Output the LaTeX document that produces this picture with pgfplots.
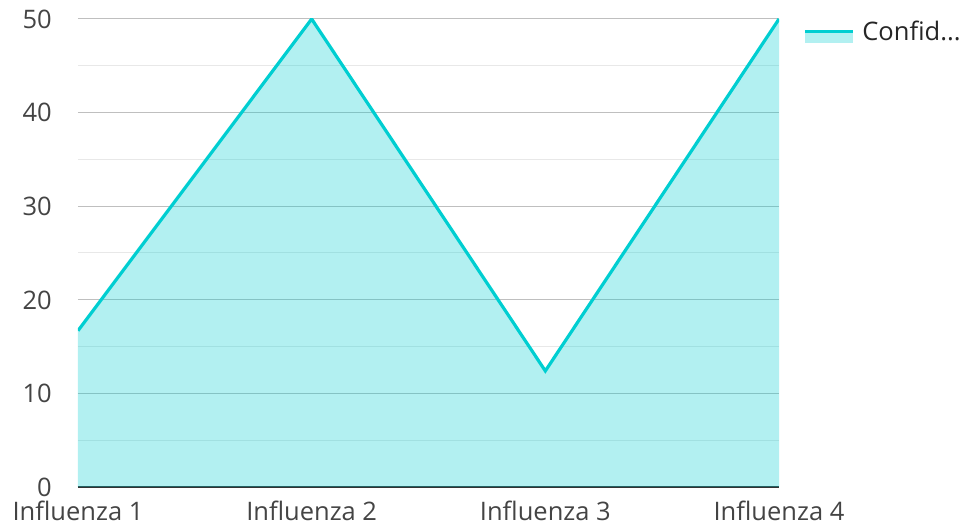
\documentclass[border=0pt]{standalone}
\usepackage{pgfplots}
\pgfplotsset{compat=1.18}
\usepackage{fontspec}
\setmainfont{Open Sans}
\definecolor{lc}{RGB}{0,206,209}
\definecolor{tickc}{RGB}{68,68,68}
\begin{document}
\begin{tikzpicture}
\begin{axis}[
  scale only axis, width=701pt, height=468pt,
  xmin=0, xmax=3, ymin=0, ymax=50,
  xtick={0,1,2,3},
  xticklabels={Influenza 1,Influenza 2,Influenza 3,Influenza 4},
  ytick={0,10,...,50}, minor ytick={5,15,...,45},
  ymajorgrids, yminorgrids,
  major grid style={draw=black!25, line width=1pt},
  minor grid style={draw=black!9, line width=1pt},
  axis lines=left, axis line style={-},
  y axis line style={draw=none},
  x axis line style={draw=black!80, line width=1.8pt},
  major tick length=0pt, minor tick length=0pt,
  tick label style={font=\fontsize{25.5}{30}\selectfont, text=tickc},
  /pgf/number format/assume math mode=true,
  yticklabel style={inner sep=0pt, xshift=-26pt, text depth=0pt},
  xticklabel style={inner sep=0pt, yshift=-14pt, text depth=0pt},
  legend style={draw=none, fill=none, at={(1,1)}, anchor=north west,
    xshift=21pt, yshift=2pt, font=\fontsize{25.5}{30}\selectfont, text=black!85,
    column sep=6pt},
  legend cell align=left,
]
\addplot[draw=none, fill=lc, fill opacity=0.3, forget plot] coordinates {(0,16.7) (1,50) (2,12.4) (3,50)} \closedcycle;
\addplot[draw=lc, line width=3.2pt, legend image code/.code={
   \path[draw=none, fill=lc, fill opacity=0.3] (0pt,-1pt) rectangle (48pt,-11pt);
   \draw[lc, line width=3.2pt] (0pt,0pt) -- (48pt,0pt);}]
  coordinates {(0,16.7) (1,50) (2,12.4) (3,50)};
\addlegendentry{Confid...}
\coordinate (SW) at (rel axis cs:0,0);
\coordinate (NE) at (rel axis cs:1,1);
\end{axis}
\pgfresetboundingbox
\path[use as bounding box] ([xshift=-78pt,yshift=-39pt]SW) rectangle ([xshift=182pt,yshift=19pt]NE);
\end{tikzpicture}
\end{document}
